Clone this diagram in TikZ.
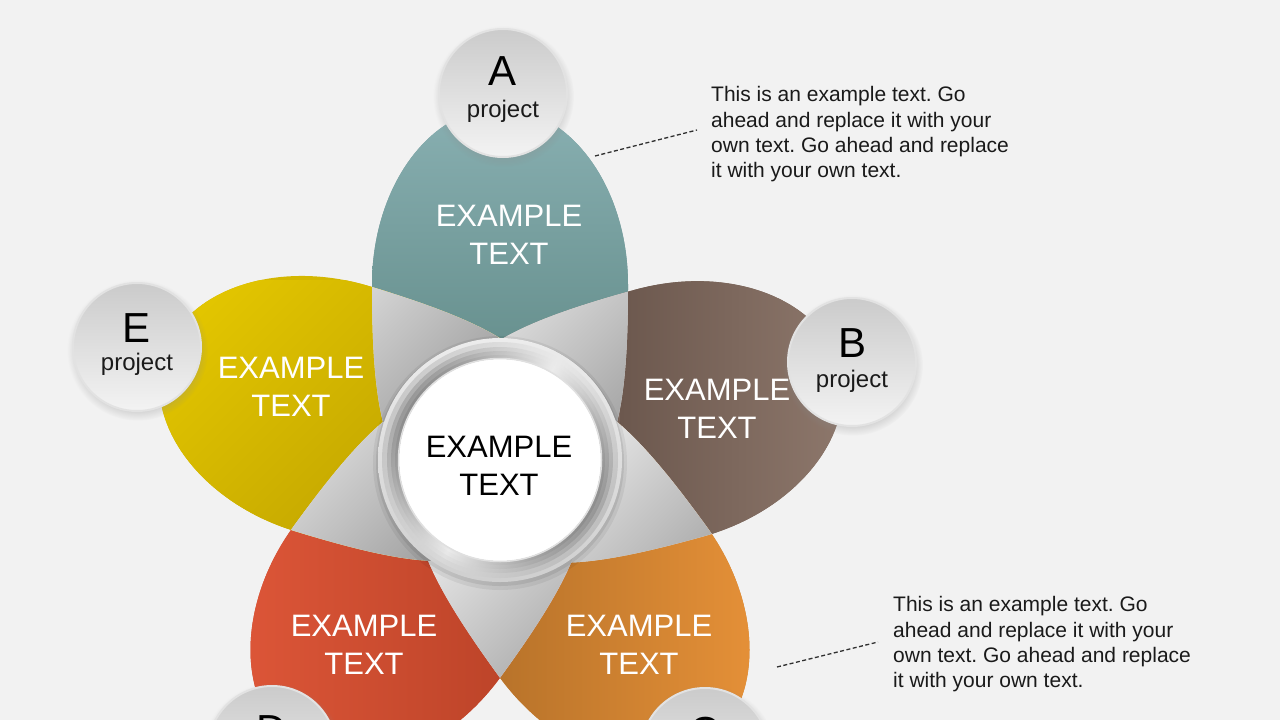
\documentclass[tikz,border=0pt]{standalone}
\usepackage{fontspec}
\setmainfont{Liberation Sans}
\frenchspacing
\usetikzlibrary{calc,shadows}
\definecolor{bgc}{HTML}{F2F2F2}
\definecolor{tealL}{HTML}{88AFB1}
\definecolor{tealD}{HTML}{68918F}
\definecolor{tealM}{HTML}{779FA1}
\definecolor{brownL}{HTML}{6C584E}
\definecolor{brownR}{HTML}{8E786C}
\definecolor{brownM}{HTML}{7D685D}
\definecolor{orgL}{HTML}{B8732A}
\definecolor{orgR}{HTML}{E69138}
\definecolor{orgM}{HTML}{CF8231}
\definecolor{redL}{HTML}{DD5638}
\definecolor{redR}{HTML}{BD4429}
\definecolor{redM}{HTML}{CD4D30}
\definecolor{yelL}{HTML}{E2C500}
\definecolor{yelR}{HTML}{C6A900}
\definecolor{yelM}{HTML}{D4B700}
\definecolor{grayL}{HTML}{E4E4E4}
\definecolor{grayD}{HTML}{A2A2A2}
\definecolor{ringT}{HTML}{ECECEC}
\definecolor{ringB}{HTML}{CFCFCF}
\definecolor{bevD}{HTML}{8A8A8A}
\definecolor{bevL}{HTML}{ECECEC}
\definecolor{circT}{HTML}{CBCBCB}
\definecolor{circB}{HTML}{F3F3F3}
\definecolor{circR}{HTML}{E2E2E2}
\definecolor{txt}{HTML}{1A1A1A}
\definecolor{dashc}{HTML}{303030}

\newcommand\petalclip[1]{\clip[shift={(500,460)},rotate=#1] (-50,0) .. controls (-50,110) and (20,128) .. (175,128) .. controls (273,128) and (352,70) .. (352,0) .. controls (352,-70) and (273,-128) .. (175,-128) .. controls (20,-128) and (-50,-110) .. cycle;}

\newcommand\overlapgray[4]{%
  \begin{scope}\petalclip{#1}\petalclip{#2}
    \fill[grayL] (0,0) rectangle (1280,720);
    \shade[top color=grayL,bottom color=grayD,shading angle=45] (#3-95,#4-95) rectangle (#3+95,#4+95);
  \end{scope}}

\tikzset{
  ptext/.style={text=white, font=\fontsize{31}{38}\selectfont, align=center, inner sep=0pt},
  ctext/.style={text=black, font=\fontsize{31}{38}\selectfont, align=center, inner sep=0pt},
  pcirc/.style={circle, minimum size=128pt, inner sep=0pt, top color=circT, bottom color=circB, draw=circR, line width=2pt,
     circular drop shadow={shadow xshift=0.5pt, shadow yshift=-3pt, opacity=.3, fill=black!45}},
  bigl/.style={font=\fontsize{42}{42}\selectfont, text=black, inner sep=0pt, anchor=base},
  proj/.style={font=\fontsize{24}{24}\selectfont, text=txt, inner sep=0pt, anchor=base},
  desc/.style={font=\fontsize{21}{25.3}\selectfont, text=txt, align=left, anchor=north west, inner sep=0pt},
  dashline/.style={dashc, line width=1.3pt, dash pattern=on 4pt off 2.5pt},
  bevel/.style={top color=bevD, bottom color=bevD, middle color=bevL, shading angle=60}
}

\begin{document}
\begin{tikzpicture}[x=1pt,y=-1pt]
\useasboundingbox (0,0) rectangle (1280,720);
\clip (0,0) rectangle (1280,720);
\fill[bgc] (0,0) rectangle (1280,720);

% coloured petals
\begin{scope}\petalclip{90}
  \fill[tealM] (0,0) rectangle (1280,720);
  \shade[top color=tealL, bottom color=tealD] (370,110) rectangle (632,345);
\end{scope}
\begin{scope}\petalclip{15.5}
  \fill[brownM] (0,0) rectangle (1280,720);
  \shade[left color=brownL, right color=brownR] (620,280) rectangle (850,545);
\end{scope}
\begin{scope}\petalclip{-54}
  \fill[orgM] (0,0) rectangle (1280,720);
  \shade[left color=orgL, right color=orgR] (498,525) rectangle (762,720);
\end{scope}
\begin{scope}\petalclip{-126}
  \fill[redM] (0,0) rectangle (1280,720);
  \shade[left color=redL, right color=redR] (238,525) rectangle (502,720);
\end{scope}
\begin{scope}\petalclip{163}
  \fill[yelM] (0,0) rectangle (1280,720);
  \shade[top color=yelL, bottom color=yelR, shading angle=45] (158,280) rectangle (392,535);
\end{scope}

% grey overlaps
\overlapgray{90}{15.5}{597}{326}
\overlapgray{15.5}{-54}{657}{511}
\overlapgray{-54}{-126}{500}{625}
\overlapgray{-126}{163}{343}{511}
\overlapgray{163}{90}{403}{326}

% central ring
\fill[black, opacity=.06] (500,463) circle (127);
\fill[black, opacity=.08] (500,462) circle (124);
\shade[top color=ringT, bottom color=ringB] (500,460) circle (122);
\shade[bevel, opacity=.3] (500,460) circle (118);
\shade[bevel, opacity=.45] (500,460) circle (113);
\shade[bevel, opacity=.6] (500,460) circle (109);
\shade[bevel, opacity=.8] (500,460) circle (105);
\fill[white] (500,460) circle (101);
\draw[black!12, line width=1.5pt] (500,460) circle (101.5);
\node[ctext] (center) at (499,466) {EXAMPLE\\TEXT};

% petal texts
\node[ptext] (tA) at (509,235) {EXAMPLE\\TEXT};
\node[ptext] (tB) at (717,409) {EXAMPLE\\TEXT};
\node[ptext] (tC) at (639,645) {EXAMPLE\\TEXT};
\node[ptext] (tD) at (364,645) {EXAMPLE\\TEXT};
\node[ptext] (tE) at (291,387) {EXAMPLE\\TEXT};

% project circles
\node[pcirc] (cA) at (503,93) {};
\node[bigl] (lA) at (503,85.5) {A};
\node[proj] (pA) at (503,117) {project};
\node[pcirc] (cB) at (852,362) {};
\node[bigl] (lB) at (852,357) {B};
\node[proj] (pB) at (852,387) {project};
\node[pcirc] (cE) at (137,347) {};
\node[bigl] (lE) at (137,342) {E};
\node[proj] (pE) at (137,370) {project};
\node[pcirc] (cD) at (272,750) {};
\node[bigl] (lD) at (272,744.5) {D};
\node[proj] (pD) at (272,774.5) {project};
\node[pcirc] (cC) at (705,752) {};
\node[bigl] (lC) at (705,746.5) {C};
\node[proj] (pC) at (705,776.5) {project};

% descriptions
\node[desc] (t1) at (711,86.5) {This is an example text. Go\\ahead and replace it with your\\own text. Go ahead and replace\\it with your own text.};
\node[desc] (t2) at (893,596.5) {This is an example text. Go\\ahead and replace it with your\\own text. Go ahead and replace\\it with your own text.};
\coordinate (d1a) at (595,156);
\coordinate (d1b) at (697,130);
\coordinate (d2a) at (777,667);
\coordinate (d2b) at (878,642);
\draw[dashline] (d1a) -- (d1b);
\draw[dashline] (d2a) -- (d2b);
\end{tikzpicture}
\end{document}
